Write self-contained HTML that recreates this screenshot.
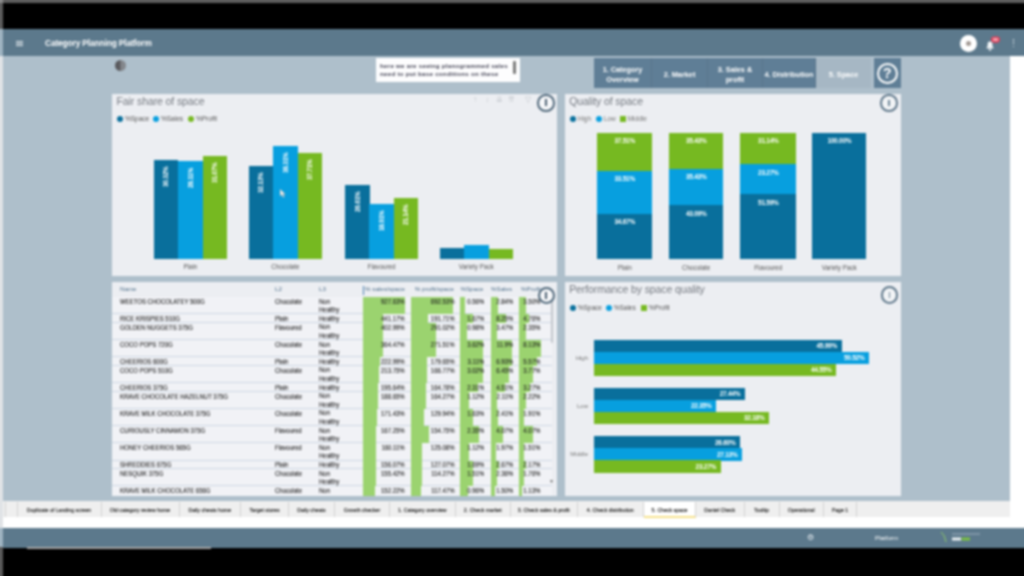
<!DOCTYPE html>
<html lang="en"><head><meta charset="utf-8"><title>Category Planning Platform</title>
<style>
html,body{margin:0;padding:0;}
body{width:1024px;height:576px;overflow:hidden;background:#000;font-family:"Liberation Sans",sans-serif;position:relative;}
.abs,.abs *{position:absolute;}
div{position:absolute;box-sizing:border-box;}
.t{white-space:nowrap;line-height:1;}
.panel{background:#eceef2;}
.ptitle{font-size:10.5px;color:#747980;left:4.5px;top:2px;letter-spacing:-0.1px;}
.leg{font-size:6.5px;color:#555;top:21.7px;}
.dot{width:6px;height:6px;border-radius:50%;top:21.8px;margin-left:-0.5px;}
.bl{font-size:6.5px;font-weight:bold;color:#fff;letter-spacing:-0.25px;}
.cat{font-size:6.3px;color:#555;text-align:center;width:60px;}
.info{width:17.5px;height:17.5px;border:2px solid #4f677a;border-radius:50%;background:#f6f7f9;}
.info:after{content:"";position:absolute;left:5.6px;top:3px;width:1.8px;height:6.8px;background:#4a5f70;}
.info2{border-width:2px;border-color:#5f778a;background:#f2f4f6;}
.info.info2:after{left:6px;top:3.8px;width:1.6px;height:6px;background:#6d8496}
.nav{top:58px;height:29.5px;background:#5f7e96;color:#fff;font-size:7.3px;font-weight:bold;text-align:center;line-height:10px;display:flex;align-items:center;justify-content:center;padding-top:3.5px;}
.tab{top:501.7px;height:15.3px;font-size:5.2px;color:#222;-webkit-text-stroke:0.15px #333;text-align:center;line-height:16px;border-right:1px solid #d2d2d2;white-space:nowrap;}
.row{left:0;width:440px;border-bottom:1px solid #cdd8e3;background:#f1f2f6;}
.c{font-size:6.6px;color:#1c1c1c;white-space:nowrap;line-height:8.6px;-webkit-text-stroke:0.1px #2a2a2a;transform:scaleX(0.91);transform-origin:0 0;}
.num{text-align:right;transform-origin:100% 0;}
.gb{background:#9bd36f;top:0;}
</style></head><body>
<div id="w" style="left:-8px;top:-8px;width:1040px;height:592px;background:#000;filter:blur(0.8px)"><div style="left:8px;top:8px;width:1024px;height:576px">

<div style="left:-8px;top:-8px;width:1040px;height:11px;background:#5e5e5e"></div>
<div style="left:-8px;top:-8px;width:11px;height:36.5px;background:#5c5c5c"></div>
<div style="left:-8px;top:-8px;width:11px;height:11px;background:#8a8a8a"></div>
<div style="left:-8px;top:56px;width:11px;height:472px;background:#e0e3e6"></div>
<div style="left:-8px;top:528px;width:11px;height:19px;background:#9fb4c2"></div>
<div style="left:-8px;top:547px;width:11px;height:40px;background:#5a5a5a"></div>
<div style="left:3px;top:28.5px;width:1030px;height:27.8px;background:#5c798c"></div>
<div style="left:-8px;top:28.5px;width:11px;height:27.5px;background:#9fb4c2"></div>
<div style="left:16px;top:40.5px;width:7px;height:1px;background:#e8eef2"></div>
<div style="left:16px;top:42.7px;width:7px;height:1px;background:#e8eef2"></div>
<div style="left:16px;top:44.9px;width:7px;height:1px;background:#e8eef2"></div>
<div class="t" style="left:45px;top:38.5px;font-size:8.3px;font-weight:bold;color:#fff;letter-spacing:-0.1px">Category Planning Platform</div>
<div style="left:959.5px;top:34.5px;width:17.5px;height:17.5px;border-radius:50%;background:#fff"></div>
<div style="left:965.7px;top:40.6px;width:5.2px;height:5.2px;border-radius:50%;background:#a39a94"></div>
<svg style="position:absolute;left:985px;top:38px;overflow:visible" width="16" height="13" viewBox="0 0 16 13"><path d="M1.6 10.5 L1.6 9.6 L2.6 8.2 L2.6 5.8 Q2.6 3.4 5 3.4 Q7.4 3.4 7.4 5.8 L7.4 8.2 L8.4 9.6 L8.4 10.5 Z" fill="#f4f7f9"/><rect x="4" y="11" width="2" height="1.5" fill="#fff"/><rect x="6" y="-1.5" width="9" height="6.2" rx="3.1" fill="#e2405a"/><text x="10.5" y="3.1" font-size="4" font-weight="bold" fill="#fff" text-anchor="middle" font-family="Liberation Sans, sans-serif">99</text></svg>
<div style="left:1012.8px;top:39.3px;width:1.7px;height:1.7px;background:#d5dfe6"></div>
<div style="left:1012.8px;top:42.4px;width:1.7px;height:1.7px;background:#d5dfe6"></div>
<div style="left:1012.8px;top:45.5px;width:1.7px;height:1.7px;background:#d5dfe6"></div>
<div style="left:3px;top:56px;width:1007px;height:446px;background:#aebfcb"></div>
<div style="left:1010px;top:56px;width:24px;height:472px;background:#fff"></div>
<div style="left:114.8px;top:59.6px;width:11.2px;height:11.2px;border-radius:50%;background:linear-gradient(90deg,#58585c 0,#5c5c60 45%,#84878c 55%,#84878c 100%)"></div>
<div style="left:376px;top:58px;width:144px;height:24px;background:#fdfdfe"></div>
<div class="t" style="left:380px;top:62.5px;font-size:6.2px;color:#445;letter-spacing:0.25px;font-weight:bold">here we are seeing planogrammed sales</div>
<div class="t" style="left:380px;top:71.2px;font-size:6.2px;color:#445;letter-spacing:0.25px;font-weight:bold">need to put base conditions on these</div>
<div style="left:512.5px;top:61px;width:3px;height:12.5px;background:#7b7b7b;border-radius:1px"></div>
<div class="nav" style="left:594px;width:58px;border-right:1px solid #5a768c">1. Category<br>Overview</div>
<div class="nav" style="left:652px;width:56px;border-right:1px solid #5a768c">2. Market</div>
<div class="nav" style="left:708px;width:55px;border-right:1px solid #5a768c">3. Sales &amp;<br>profit</div>
<div class="nav" style="left:763px;width:53px;border-right:1px solid #5a768c">4. Distribution</div>
<div class="nav" style="left:816px;width:55px;background:#a6b7c4">5. Space</div>
<div class="nav" style="left:874px;width:26.5px"></div>
<div style="left:876.5px;top:62.5px;width:21px;height:21px;border:2px solid #fff;border-radius:50%"></div>
<div class="t" style="left:883px;top:66px;font-size:14px;color:#fff;font-weight:bold">?</div>
<div class="panel" style="left:112px;top:94px;width:445px;height:181.7px">
<div class="t ptitle">Fair share of space</div>
<div class="dot" style="left:5.5px;background:#096f9c"></div><div class="t leg" style="left:13.0px">%Space</div>
<div class="dot" style="left:41.5px;background:#079fdf"></div><div class="t leg" style="left:49.0px">%Sales</div>
<div class="dot" style="left:76.5px;background:#76b921"></div><div class="t leg" style="left:84.0px">%Profit</div>
<div class="t" style="left:361px;top:2px;font-size:8px;color:#c3c7cd">↑</div>
<div class="t" style="left:373px;top:2px;font-size:8px;color:#c3c7cd">↓</div>
<div class="t" style="left:384px;top:2px;font-size:8px;color:#c3c7cd">⇊</div>
<div class="t" style="left:396px;top:2px;font-size:8px;color:#c3c7cd">⇈</div>
<div class="t" style="left:413px;top:2px;font-size:8px;color:#c3c7cd">▽</div>
<div class="info" style="left:425.2px;top:0px"></div>
<div style="left:41.8px;top:65.5px;width:24.6px;height:99.3px;background:#096f9c"></div>
<div class="t bl" style="left:51.3px;top:92.5px;transform:rotate(-90deg);transform-origin:0 0">30.32%</div>
<div style="left:66.2px;top:67.0px;width:24.6px;height:97.8px;background:#079fdf"></div>
<div class="t bl" style="left:75.7px;top:94.0px;transform:rotate(-90deg);transform-origin:0 0">28.11%</div>
<div style="left:90.6px;top:62.0px;width:24.6px;height:102.8px;background:#76b921"></div>
<div class="t bl" style="left:100.1px;top:89.0px;transform:rotate(-90deg);transform-origin:0 0">31.07%</div>
<div class="t cat" style="left:48.4px;top:170.0px">Plain</div>
<div style="left:136.8px;top:71.8px;width:24.6px;height:93.0px;background:#096f9c"></div>
<div class="t bl" style="left:146.3px;top:98.8px;transform:rotate(-90deg);transform-origin:0 0">32.13%</div>
<div style="left:161.2px;top:52.0px;width:24.6px;height:112.8px;background:#079fdf"></div>
<div class="t bl" style="left:170.7px;top:79.0px;transform:rotate(-90deg);transform-origin:0 0">38.31%</div>
<div style="left:185.6px;top:59.0px;width:24.6px;height:105.8px;background:#76b921"></div>
<div class="t bl" style="left:195.1px;top:86.0px;transform:rotate(-90deg);transform-origin:0 0">37.71%</div>
<div class="t cat" style="left:143.4px;top:170.0px">Chocolate</div>
<div style="left:233.0px;top:91.0px;width:24.6px;height:73.8px;background:#096f9c"></div>
<div class="t bl" style="left:242.5px;top:118.0px;transform:rotate(-90deg);transform-origin:0 0">26.61%</div>
<div style="left:257.4px;top:109.8px;width:24.6px;height:55.0px;background:#079fdf"></div>
<div class="t bl" style="left:266.9px;top:136.8px;transform:rotate(-90deg);transform-origin:0 0">18.91%</div>
<div style="left:281.8px;top:104.0px;width:24.6px;height:60.8px;background:#76b921"></div>
<div class="t bl" style="left:291.3px;top:131.0px;transform:rotate(-90deg);transform-origin:0 0">21.14%</div>
<div class="t cat" style="left:239.6px;top:170.0px">Flavoured</div>
<div style="left:327.7px;top:153.5px;width:24.6px;height:11.3px;background:#096f9c"></div>
<div style="left:352.1px;top:151.0px;width:24.6px;height:13.8px;background:#079fdf"></div>
<div style="left:376.5px;top:154.7px;width:24.6px;height:10.1px;background:#76b921"></div>
<div class="t cat" style="left:334.3px;top:170.0px">Variety Pack</div>
</div>
<svg style="position:absolute;left:280.3px;top:188.6px" width="7" height="9" viewBox="0 0 7 9"><polygon points="0,0 0,7.2 1.8,5.6 3.2,8.4 4.4,7.8 3.1,5.2 5.4,5.2" fill="#f2ece8" stroke="#8d9aa5" stroke-width="0.4"/></svg>
<div class="panel" style="left:564.7px;top:94px;width:336.3px;height:181.7px">
<div class="t ptitle">Quality of space</div>
<div class="dot" style="left:5.5px;background:#096f9c;"></div><div class="t leg" style="left:13.0px;color:#777">High</div>
<div class="dot" style="left:31.5px;background:#079fdf;"></div><div class="t leg" style="left:39.0px;color:#777">Low</div>
<div class="dot" style="left:55.5px;background:#76b921;border-radius:0;"></div><div class="t leg" style="left:63.0px;color:#777">Middle</div>
<div class="info info2" style="left:315.8px;top:0.3px"></div>
<div style="left:32.3px;top:38.5px;width:55.5px;height:38.0px;background:#76b921"></div>
<div style="left:32.3px;top:76.5px;width:55.5px;height:43.3px;background:#079fdf"></div>
<div style="left:32.3px;top:119.8px;width:55.5px;height:45.0px;background:#096f9c"></div>
<div class="t bl" style="left:32.3px;top:44px;width:55.5px;text-align:center">37.51%</div>
<div class="t bl" style="left:32.3px;top:82.0px;width:55.5px;text-align:center">33.51%</div>
<div class="t bl" style="left:32.3px;top:125.3px;width:55.5px;text-align:center">34.67%</div>
<div class="t cat" style="left:30.0px;top:171px">Plain</div>
<div style="left:104.5px;top:38.5px;width:54.0px;height:36.3px;background:#76b921"></div>
<div style="left:104.5px;top:74.8px;width:54.0px;height:36.2px;background:#079fdf"></div>
<div style="left:104.5px;top:111.0px;width:54.0px;height:53.8px;background:#096f9c"></div>
<div class="t bl" style="left:104.5px;top:44px;width:54.0px;text-align:center">35.43%</div>
<div class="t bl" style="left:104.5px;top:80.3px;width:54.0px;text-align:center">35.43%</div>
<div class="t bl" style="left:104.5px;top:116.5px;width:54.0px;text-align:center">43.09%</div>
<div class="t cat" style="left:101.5px;top:171px">Chocolate</div>
<div style="left:175.8px;top:38.5px;width:55.7px;height:31.5px;background:#76b921"></div>
<div style="left:175.8px;top:70.0px;width:55.7px;height:30.0px;background:#079fdf"></div>
<div style="left:175.8px;top:100.0px;width:55.7px;height:64.8px;background:#096f9c"></div>
<div class="t bl" style="left:175.8px;top:44px;width:55.7px;text-align:center">31.14%</div>
<div class="t bl" style="left:175.8px;top:75.5px;width:55.7px;text-align:center">23.27%</div>
<div class="t bl" style="left:175.8px;top:105.5px;width:55.7px;text-align:center">51.59%</div>
<div class="t cat" style="left:173.6px;top:171px">Flavoured</div>
<div style="left:247.5px;top:38.5px;width:54.3px;height:126.3px;background:#096f9c"></div>
<div class="t bl" style="left:247.5px;top:44px;width:54.3px;text-align:center">100.00%</div>
<div class="t cat" style="left:244.6px;top:171px">Variety Pack</div>
</div>
<div class="panel" style="left:112px;top:281.8px;width:445px;height:214.7px;overflow:hidden">
<div class="t" style="left:8px;top:4.7px;font-size:6.2px;color:#4f6f8a">Name</div>
<div class="t" style="left:163px;top:4.7px;font-size:6.2px;color:#4f6f8a">L2</div>
<div class="t" style="left:207px;top:4.7px;font-size:6.2px;color:#4f6f8a">L3</div>
<div class="t" style="right:152px;top:4.7px;font-size:6.2px;color:#4f6f8a">% sales/space</div>
<div class="t" style="right:103px;top:4.7px;font-size:6.2px;color:#4f6f8a">% profit/space</div>
<div class="t" style="right:73.5px;top:4.7px;font-size:6.2px;color:#4f6f8a">%Space</div>
<div class="t" style="right:45px;top:4.7px;font-size:6.2px;color:#4f6f8a">%Sales</div>
<div class="t" style="right:16px;top:4.7px;font-size:6.2px;color:#4f6f8a">%Profit</div>
<div style="left:250.5px;top:4px;width:1px;height:9px;background:#4a7fb0"></div>
<div class="row" style="top:15.4px;height:17.2px">
<div class="c" style="left:8px;top:.8px">WEETOS CHOCOLATEY 500G</div><div class="c" style="left:163px;top:.8px">Chocolate</div>
<div class="c" style="left:207px;top:.5px;white-space:normal;width:32px">Non Healthy</div>
<div class="gb" style="left:250.6px;width:42.4px;height:17.2px"></div>
<div class="c num" style="left:250.6px;width:41.7px;top:.8px">927.63%</div>
<div class="gb" style="left:299.1px;width:42.3px;height:17.2px"></div>
<div class="c num" style="left:299.1px;width:43.5px;top:.8px">692.53%</div>
<div class="gb" style="left:348.1px;width:5.2px;height:17.2px"></div>
<div class="c num" style="left:348.1px;width:24.2px;top:.8px">0.56%</div>
<div class="gb" style="left:378.8px;width:7.3px;height:17.2px"></div>
<div class="c num" style="left:378.8px;width:22.2px;top:.8px">2.84%</div>
<div class="gb" style="left:407.3px;width:6.3px;height:17.2px"></div>
<div class="c num" style="left:407.3px;width:21.4px;top:.8px">3.50%</div>
</div>
<div class="row" style="top:32.6px;height:8.6px">
<div class="c" style="left:8px;top:.8px">RICE KRISPIES 510G</div><div class="c" style="left:163px;top:.8px">Plain</div>
<div class="c" style="left:207px;top:.5px;white-space:normal;width:32px">Healthy</div>
<div class="gb" style="left:250.6px;width:20.4px;height:8.6px"></div>
<div class="c num" style="left:250.6px;width:41.7px;top:.8px">441.17%</div>
<div class="gb" style="left:299.1px;width:16.7px;height:8.6px"></div>
<div class="c num" style="left:299.1px;width:43.5px;top:.8px">191.71%</div>
<div class="gb" style="left:348.1px;width:12.5px;height:8.6px"></div>
<div class="c num" style="left:348.1px;width:24.2px;top:.8px">1.67%</div>
<div class="gb" style="left:378.8px;width:14.8px;height:8.6px"></div>
<div class="c num" style="left:378.8px;width:22.2px;top:.8px">8.25%</div>
<div class="gb" style="left:407.3px;width:9.4px;height:8.6px"></div>
<div class="c num" style="left:407.3px;width:21.4px;top:.8px">4.76%</div>
</div>
<div class="row" style="top:41.2px;height:17.2px">
<div class="c" style="left:8px;top:.8px">GOLDEN NUGGETS 375G</div><div class="c" style="left:163px;top:.8px">Flavoured</div>
<div class="c" style="left:207px;top:.5px;white-space:normal;width:32px">Non Healthy</div>
<div class="gb" style="left:250.6px;width:20.4px;height:17.2px"></div>
<div class="c num" style="left:250.6px;width:41.7px;top:.8px">402.99%</div>
<div class="gb" style="left:299.1px;width:25.0px;height:17.2px"></div>
<div class="c num" style="left:299.1px;width:43.5px;top:.8px">291.02%</div>
<div class="gb" style="left:348.1px;width:7.3px;height:17.2px"></div>
<div class="c num" style="left:348.1px;width:24.2px;top:.8px">0.98%</div>
<div class="gb" style="left:378.8px;width:6.5px;height:17.2px"></div>
<div class="c num" style="left:378.8px;width:22.2px;top:.8px">3.47%</div>
<div class="gb" style="left:407.3px;width:6.3px;height:17.2px"></div>
<div class="c num" style="left:407.3px;width:21.4px;top:.8px">2.35%</div>
</div>
<div class="row" style="top:58.4px;height:17.2px">
<div class="c" style="left:8px;top:.8px">COCO POPS 720G</div><div class="c" style="left:163px;top:.8px">Chocolate</div>
<div class="c" style="left:207px;top:.5px;white-space:normal;width:32px">Non Healthy</div>
<div class="gb" style="left:250.6px;width:20.0px;height:17.2px"></div>
<div class="c num" style="left:250.6px;width:41.7px;top:.8px">364.47%</div>
<div class="gb" style="left:299.1px;width:25.0px;height:17.2px"></div>
<div class="c num" style="left:299.1px;width:43.5px;top:.8px">271.51%</div>
<div class="gb" style="left:348.1px;width:22.9px;height:17.2px"></div>
<div class="c num" style="left:348.1px;width:24.2px;top:.8px">3.62%</div>
<div class="gb" style="left:378.8px;width:21.0px;height:17.2px"></div>
<div class="c num" style="left:378.8px;width:22.2px;top:.8px">11.9%</div>
<div class="gb" style="left:407.3px;width:21.5px;height:17.2px"></div>
<div class="c num" style="left:407.3px;width:21.4px;top:.8px">8.13%</div>
</div>
<div class="row" style="top:75.6px;height:8.6px">
<div class="c" style="left:8px;top:.8px">CHEERIOS 600G</div><div class="c" style="left:163px;top:.8px">Plain</div>
<div class="c" style="left:207px;top:.5px;white-space:normal;width:32px">Healthy</div>
<div class="gb" style="left:250.6px;width:17.4px;height:8.6px"></div>
<div class="c num" style="left:250.6px;width:41.7px;top:.8px">222.99%</div>
<div class="gb" style="left:299.1px;width:15.6px;height:8.6px"></div>
<div class="c num" style="left:299.1px;width:43.5px;top:.8px">179.65%</div>
<div class="gb" style="left:348.1px;width:22.9px;height:8.6px"></div>
<div class="c num" style="left:348.1px;width:24.2px;top:.8px">3.11%</div>
<div class="gb" style="left:378.8px;width:21.0px;height:8.6px"></div>
<div class="c num" style="left:378.8px;width:22.2px;top:.8px">6.93%</div>
<div class="gb" style="left:407.3px;width:17.7px;height:8.6px"></div>
<div class="c num" style="left:407.3px;width:21.4px;top:.8px">5.57%</div>
</div>
<div class="row" style="top:84.2px;height:17.2px">
<div class="c" style="left:8px;top:.8px">COCO POPS 510G</div><div class="c" style="left:163px;top:.8px">Chocolate</div>
<div class="c" style="left:207px;top:.5px;white-space:normal;width:32px">Non Healthy</div>
<div class="gb" style="left:250.6px;width:16.4px;height:17.2px"></div>
<div class="c num" style="left:250.6px;width:41.7px;top:.8px">213.75%</div>
<div class="gb" style="left:299.1px;width:15.6px;height:17.2px"></div>
<div class="c num" style="left:299.1px;width:43.5px;top:.8px">166.77%</div>
<div class="gb" style="left:348.1px;width:22.9px;height:17.2px"></div>
<div class="c num" style="left:348.1px;width:24.2px;top:.8px">3.02%</div>
<div class="gb" style="left:378.8px;width:18.0px;height:17.2px"></div>
<div class="c num" style="left:378.8px;width:22.2px;top:.8px">6.45%</div>
<div class="gb" style="left:407.3px;width:13.5px;height:17.2px"></div>
<div class="c num" style="left:407.3px;width:21.4px;top:.8px">3.77%</div>
</div>
<div class="row" style="top:101.4px;height:8.6px">
<div class="c" style="left:8px;top:.8px">CHEERIOS 375G</div><div class="c" style="left:163px;top:.8px">Plain</div>
<div class="c" style="left:207px;top:.5px;white-space:normal;width:32px">Healthy</div>
<div class="gb" style="left:250.6px;width:15.3px;height:8.6px"></div>
<div class="c num" style="left:250.6px;width:41.7px;top:.8px">195.64%</div>
<div class="gb" style="left:299.1px;width:14.6px;height:8.6px"></div>
<div class="c num" style="left:299.1px;width:43.5px;top:.8px">164.78%</div>
<div class="gb" style="left:348.1px;width:17.7px;height:8.6px"></div>
<div class="c num" style="left:348.1px;width:24.2px;top:.8px">2.31%</div>
<div class="gb" style="left:378.8px;width:13.8px;height:8.6px"></div>
<div class="c num" style="left:378.8px;width:22.2px;top:.8px">4.51%</div>
<div class="gb" style="left:407.3px;width:10.4px;height:8.6px"></div>
<div class="c num" style="left:407.3px;width:21.4px;top:.8px">3.27%</div>
</div>
<div class="row" style="top:110.0px;height:17.2px">
<div class="c" style="left:8px;top:.8px">KRAVE CHOCOLATE HAZELNUT 375G</div><div class="c" style="left:163px;top:.8px">Chocolate</div>
<div class="c" style="left:207px;top:.5px;white-space:normal;width:32px">Non Healthy</div>
<div class="gb" style="left:250.6px;width:15.3px;height:17.2px"></div>
<div class="c num" style="left:250.6px;width:41.7px;top:.8px">188.65%</div>
<div class="gb" style="left:299.1px;width:14.6px;height:17.2px"></div>
<div class="c num" style="left:299.1px;width:43.5px;top:.8px">164.27%</div>
<div class="gb" style="left:348.1px;width:9.4px;height:17.2px"></div>
<div class="c num" style="left:348.1px;width:24.2px;top:.8px">1.12%</div>
<div class="gb" style="left:378.8px;width:6.5px;height:17.2px"></div>
<div class="c num" style="left:378.8px;width:22.2px;top:.8px">2.11%</div>
<div class="gb" style="left:407.3px;width:6.3px;height:17.2px"></div>
<div class="c num" style="left:407.3px;width:21.4px;top:.8px">2.22%</div>
</div>
<div class="row" style="top:127.2px;height:17.2px">
<div class="c" style="left:8px;top:.8px">KRAVE MILK CHOCOLATE 375G</div><div class="c" style="left:163px;top:.8px">Chocolate</div>
<div class="c" style="left:207px;top:.5px;white-space:normal;width:32px">Non Healthy</div>
<div class="gb" style="left:250.6px;width:14.1px;height:17.2px"></div>
<div class="c num" style="left:250.6px;width:41.7px;top:.8px">171.43%</div>
<div class="gb" style="left:299.1px;width:12.7px;height:17.2px"></div>
<div class="c num" style="left:299.1px;width:43.5px;top:.8px">129.94%</div>
<div class="gb" style="left:348.1px;width:12.9px;height:17.2px"></div>
<div class="c num" style="left:348.1px;width:24.2px;top:.8px">1.63%</div>
<div class="gb" style="left:378.8px;width:7.2px;height:17.2px"></div>
<div class="c num" style="left:378.8px;width:22.2px;top:.8px">2.41%</div>
<div class="gb" style="left:407.3px;width:5.1px;height:17.2px"></div>
<div class="c num" style="left:407.3px;width:21.4px;top:.8px">1.91%</div>
</div>
<div class="row" style="top:144.4px;height:17.2px">
<div class="c" style="left:8px;top:.8px">CURIOUSLY CINNAMON 375G</div><div class="c" style="left:163px;top:.8px">Flavoured</div>
<div class="c" style="left:207px;top:.5px;white-space:normal;width:32px">Non Healthy</div>
<div class="gb" style="left:250.6px;width:13.0px;height:17.2px"></div>
<div class="c num" style="left:250.6px;width:41.7px;top:.8px">167.25%</div>
<div class="gb" style="left:299.1px;width:17.9px;height:17.2px"></div>
<div class="c num" style="left:299.1px;width:43.5px;top:.8px">154.75%</div>
<div class="gb" style="left:348.1px;width:19.1px;height:17.2px"></div>
<div class="c num" style="left:348.1px;width:24.2px;top:.8px">2.35%</div>
<div class="gb" style="left:378.8px;width:12.3px;height:17.2px"></div>
<div class="c num" style="left:378.8px;width:22.2px;top:.8px">4.07%</div>
<div class="gb" style="left:407.3px;width:13.3px;height:17.2px"></div>
<div class="c num" style="left:407.3px;width:21.4px;top:.8px">4.07%</div>
</div>
<div class="row" style="top:161.6px;height:17.2px">
<div class="c" style="left:8px;top:.8px">HONEY CHEERIOS 565G</div><div class="c" style="left:163px;top:.8px">Flavoured</div>
<div class="c" style="left:207px;top:.5px;white-space:normal;width:32px">Non Healthy</div>
<div class="gb" style="left:250.6px;width:13.0px;height:17.2px"></div>
<div class="c num" style="left:250.6px;width:41.7px;top:.8px">160.11%</div>
<div class="gb" style="left:299.1px;width:10.7px;height:17.2px"></div>
<div class="c num" style="left:299.1px;width:43.5px;top:.8px">125.08%</div>
<div class="gb" style="left:348.1px;width:8.8px;height:17.2px"></div>
<div class="c num" style="left:348.1px;width:24.2px;top:.8px">1.12%</div>
<div class="gb" style="left:378.8px;width:5.1px;height:17.2px"></div>
<div class="c num" style="left:378.8px;width:22.2px;top:.8px">1.97%</div>
<div class="gb" style="left:407.3px;width:4.7px;height:17.2px"></div>
<div class="c num" style="left:407.3px;width:21.4px;top:.8px">1.51%</div>
</div>
<div class="row" style="top:178.8px;height:8.6px">
<div class="c" style="left:8px;top:.8px">SHREDDIES 675G</div><div class="c" style="left:163px;top:.8px">Plain</div>
<div class="c" style="left:207px;top:.5px;white-space:normal;width:32px">Healthy</div>
<div class="gb" style="left:250.6px;width:13.0px;height:8.6px"></div>
<div class="c num" style="left:250.6px;width:41.7px;top:.8px">156.07%</div>
<div class="gb" style="left:299.1px;width:10.7px;height:8.6px"></div>
<div class="c num" style="left:299.1px;width:43.5px;top:.8px">127.07%</div>
<div class="gb" style="left:348.1px;width:12.9px;height:8.6px"></div>
<div class="c num" style="left:348.1px;width:24.2px;top:.8px">1.69%</div>
<div class="gb" style="left:378.8px;width:8.2px;height:8.6px"></div>
<div class="c num" style="left:378.8px;width:22.2px;top:.8px">2.67%</div>
<div class="gb" style="left:407.3px;width:6.8px;height:8.6px"></div>
<div class="c num" style="left:407.3px;width:21.4px;top:.8px">2.17%</div>
</div>
<div class="row" style="top:187.4px;height:17.2px">
<div class="c" style="left:8px;top:.8px">NESQUIK 375G</div><div class="c" style="left:163px;top:.8px">Chocolate</div>
<div class="c" style="left:207px;top:.5px;white-space:normal;width:32px">Non Healthy</div>
<div class="gb" style="left:250.6px;width:13.0px;height:17.2px"></div>
<div class="c num" style="left:250.6px;width:41.7px;top:.8px">155.42%</div>
<div class="gb" style="left:299.1px;width:10.7px;height:17.2px"></div>
<div class="c num" style="left:299.1px;width:43.5px;top:.8px">114.27%</div>
<div class="gb" style="left:348.1px;width:12.9px;height:17.2px"></div>
<div class="c num" style="left:348.1px;width:24.2px;top:.8px">1.51%</div>
<div class="gb" style="left:378.8px;width:6.2px;height:17.2px"></div>
<div class="c num" style="left:378.8px;width:22.2px;top:.8px">2.36%</div>
<div class="gb" style="left:407.3px;width:4.7px;height:17.2px"></div>
<div class="c num" style="left:407.3px;width:21.4px;top:.8px">1.76%</div>
</div>
<div class="row" style="top:204.6px;height:17.2px">
<div class="c" style="left:8px;top:.8px">KRAVE MILK CHOCOLATE 656G</div><div class="c" style="left:163px;top:.8px">Chocolate</div>
<div class="c" style="left:207px;top:.5px;white-space:normal;width:32px">Non Healthy</div>
<div class="gb" style="left:250.6px;width:12.0px;height:17.2px"></div>
<div class="c num" style="left:250.6px;width:41.7px;top:.8px">152.22%</div>
<div class="gb" style="left:299.1px;width:9.6px;height:17.2px"></div>
<div class="c num" style="left:299.1px;width:43.5px;top:.8px">117.47%</div>
<div class="gb" style="left:348.1px;width:7.8px;height:17.2px"></div>
<div class="c num" style="left:348.1px;width:24.2px;top:.8px">0.96%</div>
<div class="gb" style="left:378.8px;width:4.1px;height:17.2px"></div>
<div class="c num" style="left:378.8px;width:22.2px;top:.8px">1.50%</div>
<div class="gb" style="left:407.3px;width:2.7px;height:17.2px"></div>
<div class="c num" style="left:407.3px;width:21.4px;top:.8px">1.13%</div>
</div>
<div style="left:438.5px;top:19px;width:2.5px;height:42px;background:#c2c6cc;border-radius:1px"></div>
<div class="t" style="left:437px;top:197px;font-size:5px;color:#666">▼</div>
<div class="info" style="left:425.8px;top:5px"></div>
</div>
<div class="panel" style="left:564.7px;top:281.8px;width:336.3px;height:214.7px">
<div class="t ptitle">Performance by space quality</div>
<div class="dot" style="left:5.5px;margin-top:1.2px;background:#096f9c;"></div><div class="t leg" style="left:13.0px;margin-top:1.2px">%Space</div>
<div class="dot" style="left:41.5px;margin-top:1.2px;background:#079fdf;"></div><div class="t leg" style="left:49.0px;margin-top:1.2px">%Sales</div>
<div class="dot" style="left:76.5px;margin-top:1.2px;background:#76b921;border-radius:0;"></div><div class="t leg" style="left:84.0px;margin-top:1.2px">%Profit</div>
<div class="info info2" style="left:316px;top:4.7px"></div>
<div class="t" style="right:313.0px;top:73.2px;font-size:6px;color:#777">High</div>
<div style="left:29.5px;top:58.2px;width:247.5px;height:12.2px;background:#096f9c"></div>
<div class="t bl" style="right:64.0px;top:61.5px">45.99%</div>
<div style="left:29.5px;top:70.3px;width:275.0px;height:12.2px;background:#079fdf"></div>
<div class="t bl" style="right:36.5px;top:73.6px">50.52%</div>
<div style="left:29.5px;top:82.4px;width:242.0px;height:12.2px;background:#76b921"></div>
<div class="t bl" style="right:69.5px;top:85.7px">44.55%</div>
<div class="t" style="right:313.0px;top:121.2px;font-size:6px;color:#777">Low</div>
<div style="left:29.5px;top:106.2px;width:150.7px;height:12.2px;background:#096f9c"></div>
<div class="t bl" style="right:160.8px;top:109.5px">27.44%</div>
<div style="left:29.5px;top:118.3px;width:122.0px;height:12.2px;background:#079fdf"></div>
<div class="t bl" style="right:189.5px;top:121.6px">22.35%</div>
<div style="left:29.5px;top:130.4px;width:175.0px;height:12.2px;background:#76b921"></div>
<div class="t bl" style="right:136.5px;top:133.7px">32.18%</div>
<div class="t" style="right:313.0px;top:169.5px;font-size:6px;color:#777">Middle</div>
<div style="left:29.5px;top:154.5px;width:146.0px;height:12.2px;background:#096f9c"></div>
<div class="t bl" style="right:165.5px;top:157.8px">26.60%</div>
<div style="left:29.5px;top:166.6px;width:148.0px;height:12.2px;background:#079fdf"></div>
<div class="t bl" style="right:163.5px;top:169.9px">27.13%</div>
<div style="left:29.5px;top:178.7px;width:126.6px;height:12.2px;background:#76b921"></div>
<div class="t bl" style="right:184.9px;top:182.0px">23.27%</div>
</div>
<div style="left:3px;top:501.3px;width:1007px;height:15.5px;background:#efefef"></div>
<div style="left:3px;top:517px;width:1030px;height:11px;background:#fff"></div>
<div class="tab" style="left:5px;width:12.5px;"></div>
<div class="tab" style="left:17.5px;width:84px;">Duplicate of Landing screen</div>
<div class="tab" style="left:101.5px;width:78px;">Old category review home</div>
<div class="tab" style="left:179.5px;width:61.5px;">Daily cheats home</div>
<div class="tab" style="left:241px;width:48px;">Target stores</div>
<div class="tab" style="left:289px;width:46px;">Daily cheats</div>
<div class="tab" style="left:335px;width:55px;">Growth checker</div>
<div class="tab" style="left:390px;width:65.5px;">1. Category overview</div>
<div class="tab" style="left:455.5px;width:55.5px;">2. Check market</div>
<div class="tab" style="left:511px;width:66.5px;">3. Check sales &amp; profit</div>
<div class="tab" style="left:577.5px;width:66.5px;">4. Check distribution</div>
<div class="tab" style="left:644px;width:52px;background:#fff;border-bottom:2px solid #f7e28a;color:#111;height:16.8px;">5. Check space</div>
<div class="tab" style="left:696px;width:48.5px;">Daniel Check</div>
<div class="tab" style="left:744.5px;width:35px;">Tooltip</div>
<div class="tab" style="left:779.5px;width:44.5px;">Operational</div>
<div class="tab" style="left:824px;width:33px;">Page 1</div>
<div style="left:5px;top:501.7px;width:1px;height:15.3px;background:#d2d2d2"></div>
<div style="left:3px;top:528.1px;width:1030px;height:19.5px;background:#5c798c"></div>
<div style="left:27px;top:546.6px;width:183.5px;height:2.4px;background:#a5a5a5"></div>
<div class="t" style="left:807px;top:533.5px;font-size:8px;color:#e8eef2">⚙</div>
<div class="t" style="left:875px;top:534.5px;font-size:6.2px;color:#fff">Platform</div>
<svg style="position:absolute;left:940px;top:531px" width="42" height="14" viewBox="0 0 42 14"><path d="M1 1 Q5 4 6 11" stroke="#8fc96a" stroke-width="1" fill="none"/><rect x="12" y="6.5" width="9" height="3" fill="#e8eef2"/><rect x="21.5" y="6.5" width="8.5" height="3" fill="#7bc043"/><rect x="12" y="2.5" width="28" height="1" fill="#9fb2c0"/></svg>
</div></div></body></html>
